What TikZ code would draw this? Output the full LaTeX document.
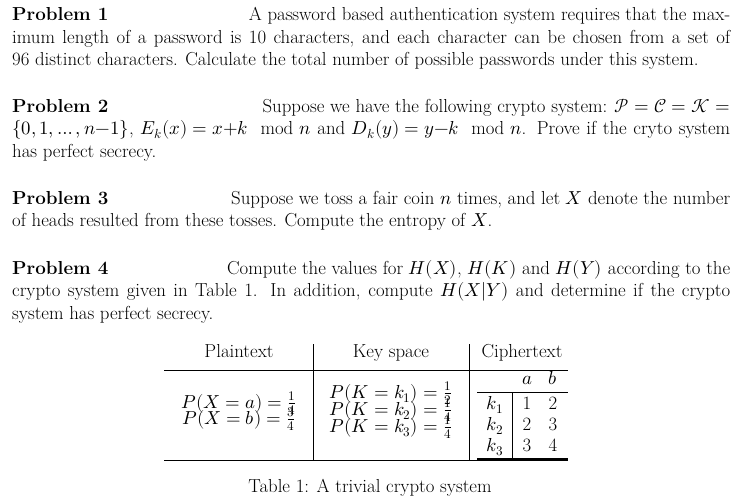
\documentclass[tikz,border=0pt]{standalone}
\usepackage{amsmath}
\usepackage{unicode-math}
\usetikzlibrary{positioning}
\newcommand{\fullline}[1]{\makebox[718pt][s]{#1}}
\newcommand{\headline}[2]{\makebox[718pt]{\textbf{#1}\hfill #2}}
\begin{document}
\begin{tikzpicture}[x=1pt,y=-1pt]
  \tikzstyle{txt}=[anchor=base west,inner sep=0pt,font=\fontsize{18.8}{22}\selectfont]
  \tikzstyle{cell}=[anchor=base,inner sep=0pt,font=\fontsize{18.8}{22}\selectfont]
  \useasboundingbox (0,0) rectangle (752,501);
  % problem 1
  \node [txt] (p1a) at (12,20) {\headline{Problem 1}{A password based authentication system requires that the max-}};
  \node [txt] (p1b) at (12,43) {\fullline{imum length of a password is 10 characters, and each character can be chosen from a set of}};
  \node [txt] (p1c) at (12,65) {96 distinct characters. Calculate the total number of possible passwords under this system.};
  % problem 2
  \node [txt] (p2a) at (12,112) {\headline{Problem 2}{Suppose we have the following crypto system: $\mathcal{P}=\mathcal{C}=\mathcal{K}=$}};
  \node [txt] (p2b) at (12,134) {\fullline{\mbox{$\{0,1,\ldots,n{-}1\}$}, \mbox{$E_k(x)=x{+}k\mod n$} and \mbox{$D_k(y)=y{-}k\mod n$}. Prove if the cryto system}};
  \node [txt] (p2c) at (12,157) {has perfect secrecy.};
  % problem 3
  \node [txt] (p3a) at (12,204) {\headline{Problem 3}{Suppose we toss a fair coin $n$ times, and let $X$ denote the number}};
  \node [txt] (p3b) at (12,226) {of heads resulted from these tosses. Compute the entropy of $X$.};
  % problem 4
  \node [txt] (p4a) at (12,274) {\headline{Problem 4}{Compute the values for $H(X)$, $H(K)$ and $H(Y)$ according to the}};
  \node [txt] (p4b) at (12,296) {\fullline{crypto system given in Table 1. In addition, compute \mbox{$H(X|Y)$} and determine if the crypto}};
  \node [txt] (p4c) at (12,319) {system has perfect secrecy.};
  % table
  \draw (164,370) -- (568,370);
  \draw (164,460) -- (568,460);
  \draw (313,344) -- (313,460);
  \draw (469,344) -- (469,460);
  \draw (477,392) -- (568,392);
  \draw (512,392) -- (512,460);
  \draw [line width=1.2pt] (477,459) -- (568,459);
  \node [cell] (hplain) at (239,357) {Plaintext};
  \node [cell] (hkey)   at (391,357) {Key space};
  \node [cell] (hciph)  at (522,357) {Ciphertext};
  \node [cell] (pxa) at (239,408) {$P(X=a)=\frac{1}{4}$};
  \node [cell] (pxb) at (239,424) {$P(X=b)=\frac{3}{4}$};
  \node [cell] (pk1) at (391,398) {$P(K=k_1)=\frac{1}{2}$};
  \node [cell] (pk2) at (391,415) {$P(K=k_2)=\frac{1}{4}$};
  \node [cell] (pk3) at (391,432) {$P(K=k_3)=\frac{1}{4}$};
  \node [cell] (ca) at (527,384) {$a$};
  \node [cell] (cb) at (553,384) {$b$};
  \foreach \k/\y/\u/\v in {1/409/1/2,2/430/2/3,3/451/3/4} {
    \node [cell] (k\k) at (495,\y) {$k_\k$};
    \node [cell] (ka\k) at (527,\y) {\u};
    \node [cell] (kb\k) at (553,\y) {\v};
  }
  \node [cell] (caption) at (370,492) {Table 1: A trivial crypto system};
\end{tikzpicture}
\end{document}
